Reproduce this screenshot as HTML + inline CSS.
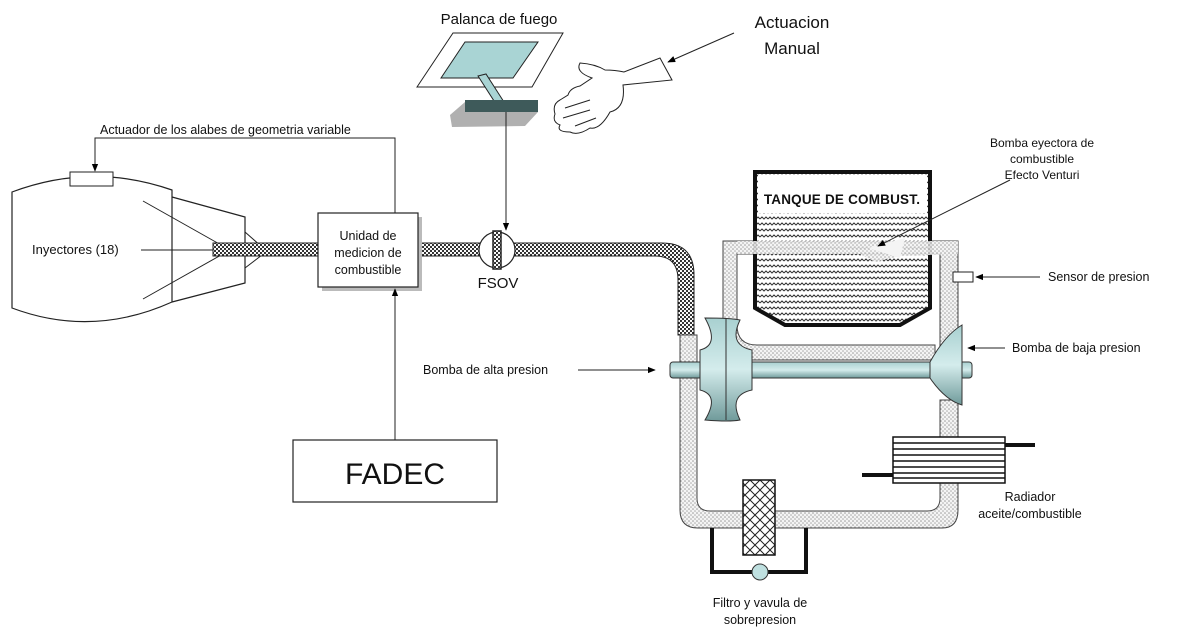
<!DOCTYPE html>
<html><head><meta charset="utf-8"><style>
html,body{margin:0;padding:0;background:#fff;width:1180px;height:630px;overflow:hidden}
svg{display:block}
text{font-family:"Liberation Sans",sans-serif;fill:#111}
</style></head><body>
<svg width="1180" height="630" viewBox="0 0 1180 630" xmlns="http://www.w3.org/2000/svg">
<defs>
<pattern id="dk" width="4" height="4" patternUnits="userSpaceOnUse"><rect width="4" height="4" fill="#fff"/><circle cx="1" cy="1" r="1.1" fill="#222"/><circle cx="3" cy="3" r="1.1" fill="#222"/></pattern>
<pattern id="lt" width="4" height="4" patternUnits="userSpaceOnUse"><rect width="4" height="4" fill="#f4f4f4"/><circle cx="1" cy="1" r="0.8" fill="#999"/><circle cx="3" cy="3" r="0.8" fill="#aaa"/></pattern>
<pattern id="wv" width="8" height="6" patternUnits="userSpaceOnUse"><rect width="8" height="6" fill="#fff"/><path d="M0 3 L2 1 L4 3 L6 1 L8 3" stroke="#333" stroke-width="1" fill="none"/></pattern>
<pattern id="xh" width="10" height="10" patternUnits="userSpaceOnUse"><rect width="10" height="10" fill="#fff"/><path d="M0 0 L10 10 M10 0 L0 10" stroke="#222" stroke-width="1"/></pattern>
<marker id="ar" viewBox="0 0 10 10" refX="9" refY="5" markerWidth="8" markerHeight="8" orient="auto"><path d="M0 1 L10 5 L0 9 Z" fill="#000"/></marker>
<linearGradient id="bl" x1="0" y1="0" x2="0" y2="1"><stop offset="0" stop-color="#a8d0d0"/><stop offset="0.5" stop-color="#d4ecec"/><stop offset="1" stop-color="#6f9a9a"/></linearGradient>
</defs>

<!-- engine -->
<path d="M12 192 Q92 162 172 190 L172 302 Q92 338 12 308 Z" fill="#fff" stroke="#222" stroke-width="1.2"/>
<rect x="70" y="172" width="43" height="14" fill="#fff" stroke="#222"/>
<path d="M172 197 L245 217 L245 283 L172 302" fill="none" stroke="#222" stroke-width="1.2"/>
<path d="M245 232 L262 247 M245 268 L262 255" stroke="#222"/>
<path d="M143 201 L230 250 M141 250 L230 250 M143 299 L230 250" stroke="#222"/>
<text x="32" y="254" font-size="13">Inyectores (18)</text>

<!-- pipes dark -->
<rect x="213" y="243" width="105" height="13" fill="url(#dk)" stroke="#222"/>
<rect x="418" y="243" width="64" height="13" fill="url(#dk)" stroke="#222"/>
<path d="M512 243 L662 243 Q694 243 694 275 L694 335 L678 335 L678 280 Q678 256 655 256 L512 256 Z" fill="url(#dk)" stroke="#222"/>

<!-- unit box -->
<rect x="322" y="217" width="100" height="74" fill="#bbb"/>
<rect x="318" y="213" width="100" height="74" fill="#fff" stroke="#222" stroke-width="1.2"/>
<text font-size="12.5" text-anchor="middle"><tspan x="368" y="240">Unidad de</tspan><tspan x="368" y="257">medicion de</tspan><tspan x="368" y="274">combustible</tspan></text>

<!-- FSOV -->
<circle cx="497" cy="250" r="18" fill="#fff" stroke="#222" stroke-width="1.2"/>
<rect x="493" y="231" width="8" height="38" fill="url(#dk)" stroke="#222" stroke-width="1.5"/>
<text x="498" y="288" font-size="15" text-anchor="middle">FSOV</text>

<!-- actuator line -->
<path d="M395 213 L395 138 L95 138 L95 171" fill="none" stroke="#222" marker-end="url(#ar)"/>
<text x="100" y="134" font-size="12.5">Actuador de los alabes de geometria variable</text>

<!-- FADEC -->
<rect x="293" y="440" width="204" height="62" fill="#fff" stroke="#222" stroke-width="1.2"/>
<text x="395" y="484" font-size="30" text-anchor="middle">FADEC</text>
<path d="M395 440 L395 289" stroke="#222" marker-end="url(#ar)"/>

<!-- palanca -->
<text x="499" y="24" font-size="15" text-anchor="middle">Palanca de fuego</text>
<path d="M417 87 L453 33 L563 33 L532 87 Z" fill="#fff" stroke="#222"/>
<path d="M441 78 L465 42 L538 42 L513 78 Z" fill="#a9d4d4" stroke="#222"/>
<path d="M478 76 L486 74 L504 102 L496 104 Z" fill="#a9d4d4" stroke="#222"/>
<path d="M450 115 L465 102 L538 102 L538 112 L525 126 L452 127 Z" fill="#b0b0b0"/>
<rect x="465" y="100" width="73" height="12" fill="#3e5a5a"/>
<path d="M506 112 L506 230" stroke="#222" marker-end="url(#ar)"/>

<!-- hand -->
<path d="M660 58 L672 80 L623 85 Q626 108 610 112 Q600 130 590 128 Q578 136 570 132 Q556 132 560 125 Q552 122 555 114 Q552 104 560 100 L568 95 Q570 88 580 86 L592 78 Q575 72 580 63 Q595 64 605 70 Q615 70 624 72 Z" fill="#fff" stroke="#222"/>
<path d="M565 108 L590 100 M563 118 L590 110 M575 126 L596 118" stroke="#222" fill="none"/>
<path d="M734 33 L668 62" stroke="#222" marker-end="url(#ar)"/>
<text x="792" y="28" font-size="17" text-anchor="middle">Actuacion</text>
<text x="792" y="54" font-size="17" text-anchor="middle">Manual</text>

<!-- lower loop (light) -->
<path d="M680 335 L680 510 Q680 528 698 528 L942 528 Q958 528 958 510 L958 400 L940 400 L940 498 Q940 511 927 511 L710 511 Q697 511 697 498 L697 335 Z" fill="url(#lt)" stroke="#444"/>
<!-- upper U loop -->
<path d="M723 241 L958 241 L958 350 L940 350 L940 254 L737 254 L737 325 Q737 345 757 345 L935 345 L935 360 L745 360 Q723 360 723 335 Z" fill="url(#lt)" stroke="#444"/>

<!-- tank -->
<path d="M755 172 L930 172 L930 308 L900 325 L785 325 L755 308 Z" fill="url(#wv)" stroke="#111" stroke-width="4"/>
<rect x="758" y="175" width="169" height="38" fill="#fff"/>
<text x="842" y="204" font-size="13.5" font-weight="bold" text-anchor="middle" letter-spacing="0.2">TANQUE DE COMBUST.</text>
<path d="M737 241 L958 241 L958 254 L900 256 L875 262 L860 254 L737 254 Z" fill="url(#lt)" opacity="0.9"/>
<path d="M868 248 L905 238 L900 258 Z" fill="#f4f4f4"/>

<!-- shaft and pumps -->
<rect x="670" y="362" width="302" height="16" rx="3" fill="url(#bl)" stroke="#333"/>
<path d="M705 318 Q730 318 740 320 Q728 345 752 350 L752 390 Q728 395 740 420 Q730 422 705 420 Q720 395 700 390 L700 350 Q720 345 705 318 Z" fill="url(#bl)" stroke="#333"/>
<path d="M726 318 L726 420" stroke="#333"/>
<path d="M962 325 L962 405 Q945 400 930 378 L930 362 Q945 335 962 325 Z" fill="url(#bl)" stroke="#333"/>

<!-- sensor -->
<rect x="953" y="272" width="20" height="10" fill="#fff" stroke="#222"/>
<path d="M1040 277 L976 277" stroke="#222" marker-end="url(#ar)"/>
<text x="1048" y="281" font-size="12.5">Sensor de presion</text>

<!-- labels with arrows -->
<text x="1042" y="147" font-size="12" text-anchor="middle">Bomba eyectora de</text>
<text x="1042" y="163" font-size="12" text-anchor="middle">combustible</text>
<text x="1042" y="179" font-size="12" text-anchor="middle">Efecto Venturi</text>
<path d="M1010 180 L878 246" stroke="#222" marker-end="url(#ar)"/>
<path d="M1005 348 L968 348" stroke="#222" marker-end="url(#ar)"/>
<text x="1012" y="352" font-size="12.5">Bomba de baja presion</text>
<path d="M578 370 L655 370" stroke="#222" marker-end="url(#ar)"/>
<text x="423" y="374" font-size="12.5">Bomba de alta presion</text>

<!-- radiator -->
<rect x="893" y="437" width="112" height="46" fill="#fff" stroke="#111" stroke-width="1.5"/>
<path d="M893 443 H1005 M893 449 H1005 M893 455 H1005 M893 461 H1005 M893 467 H1005 M893 473 H1005 M893 478 H1005" stroke="#111" stroke-width="1.6"/>
<path d="M1005 445 L1035 445 M862 475 L893 475" stroke="#111" stroke-width="4"/>
<text x="1030" y="501" font-size="12.5" text-anchor="middle">Radiador</text>
<text x="1030" y="518" font-size="12.5" text-anchor="middle">aceite/combustible</text>

<!-- filter -->
<path d="M712 528 L712 572 L806 572 L806 528" fill="none" stroke="#111" stroke-width="4"/>
<rect x="743" y="480" width="32" height="75" fill="url(#xh)" stroke="#111" stroke-width="1.5"/>
<circle cx="760" cy="572" r="8" fill="#bfe0e0" stroke="#333"/>
<text x="760" y="607" font-size="12.5" text-anchor="middle">Filtro y vavula de</text>
<text x="760" y="624" font-size="12.5" text-anchor="middle">sobrepresion</text>
</svg>
</body></html>
